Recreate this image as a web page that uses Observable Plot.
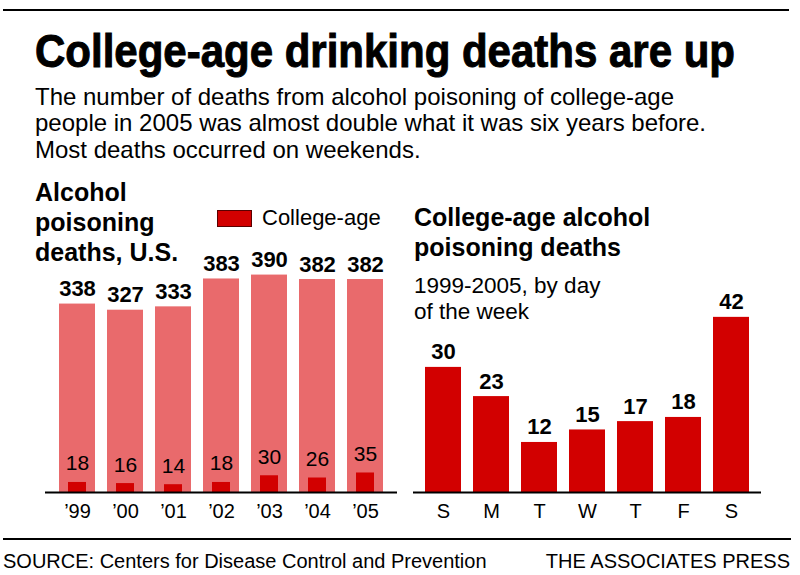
<!DOCTYPE html>
<html><head><meta charset="utf-8">
<script src="https://cdn.jsdelivr.net/npm/d3@7"></script>
<script src="https://cdn.jsdelivr.net/npm/@observablehq/plot@0.6"></script>
<style>
body{margin:0;background:#fff;}
#wrap{position:relative;width:800px;height:575px;overflow:hidden;font-family:"Liberation Sans",Arial,sans-serif;color:#000;background:#fff;}
.t{position:absolute;white-space:nowrap;}
.rule{position:absolute;background:#000;}
#wrap svg{position:absolute;top:170px;}
#title{transform-origin:0 0;-webkit-text-stroke:1px #000;}
</style></head><body>
<div id="wrap">
  <div class="rule" style="left:3px;top:9px;width:786px;height:2px"></div>
  <div class="t" id="title" style="left:35px;top:27px;font-weight:bold;font-size:47px;line-height:47px;">College-age drinking deaths are up</div>
  <div class="t" style="left:35px;top:83.5px;font-size:24px;line-height:26.5px;">The number of deaths from alcohol poisoning of college-age<br>people in 2005 was almost double what it was six years before.<br>Most deaths occurred on weekends.</div>
  <div class="t" style="left:35px;top:177px;font-size:25px;line-height:30px;font-weight:bold;">Alcohol<br>poisoning<br>deaths, U.S.</div>
  <div style="position:absolute;left:217px;top:210px;width:33px;height:15px;background:#d20000;border:1px solid #5a0000;"></div>
  <div class="t" style="left:262px;top:207px;font-size:22px;line-height:22px;">College-age</div>
  <div class="t" style="left:414px;top:202px;font-size:25px;line-height:30px;font-weight:bold;">College-age alcohol<br>poisoning deaths</div>
  <div class="t" style="left:414px;top:273px;font-size:22.5px;line-height:26px;">1999-2005, by day<br>of the week</div>
  <div class="rule" style="left:3px;top:538px;width:788px;height:2px"></div>
  <div class="t" style="left:3px;top:551px;font-size:20px;line-height:20px;">SOURCE: Centers for Disease Control and Prevention</div>
  <div class="t" style="right:10px;top:551px;font-size:20px;line-height:20px;">THE ASSOCIATES PRESS</div>
</div>
<script>
const years = ["\u201999","\u201900","\u201901","\u201902","\u201903","\u201904","\u201905"];
const totalDeaths = [338, 327, 333, 383, 390, 382, 382];
const collegeDeaths = [18, 16, 14, 18, 30, 26, 35];
const days = ["S", "M", "T", "W", "T", "F", "S"];
const dayDeaths = [30, 23, 12, 15, 17, 18, 42];

const pink = "#e96a6c";
const red = "#d20000";
const font = "'Liberation Sans', Arial, sans-serif";

const yearData = years.map((year, i) => ({year, total: totalDeaths[i], college: collegeDeaths[i]}));
const dayData = days.map((day, i) => ({i, day, value: dayDeaths[i]}));

const left = Plot.plot({
  width: 400, height: 360,
  marginLeft: 45, marginRight: 3, marginTop: 99, marginBottom: 38,
  style: {fontFamily: font, fontSize: "20px", background: "transparent", overflow: "visible"},
  x: {domain: years, paddingInner: 0.25, paddingOuter: 0.276, label: null},
  y: {domain: [0, 400], axis: null},
  marks: [
    Plot.barY(yearData, {x: "year", y: "total", fill: pink}),
    Plot.barY(yearData, {x: "year", y: "college", fill: red, insetLeft: 9, insetRight: 9}),
    Plot.text(yearData, {x: "year", y: "total", text: d => String(d.total), dy: -8, lineAnchor: "bottom", fontWeight: "bold", fontSize: 22}),
    Plot.text(yearData, {x: "year", y: "college", text: d => String(d.college), dy: -12, lineAnchor: "bottom", fontSize: 21}),
    Plot.ruleY([0], {stroke: "#000", strokeWidth: 2}),
    Plot.axisX({tickSize: 0, tickPadding: 11, fontSize: 20, label: null})
  ]
});
left.style.left = "0px";

const right = Plot.plot({
  width: 400, height: 360,
  marginLeft: 13, marginRight: 39, marginTop: 113.5, marginBottom: 38,
  style: {fontFamily: font, fontSize: "20px", background: "transparent", overflow: "visible"},
  x: {domain: d3.range(days.length), paddingInner: 0.258, paddingOuter: 0.216, label: null},
  y: {domain: [0, 50], axis: null},
  marks: [
    Plot.barY(dayData, {x: "i", y: "value", fill: red}),
    Plot.text(dayData, {x: "i", y: "value", text: d => String(d.value), dy: -8, lineAnchor: "bottom", fontWeight: "bold", fontSize: 22}),
    Plot.ruleY([0], {stroke: "#000", strokeWidth: 2}),
    Plot.axisX({tickSize: 0, tickPadding: 11, fontSize: 20, label: null, tickFormat: i => days[i]})
  ]
});
right.style.left = "400px";

document.getElementById("wrap").append(left, right);

const title = document.getElementById("title");
const tw = title.getBoundingClientRect().width;
title.style.transform = `scaleX(${700 / tw})`;
</script>
</body></html>
